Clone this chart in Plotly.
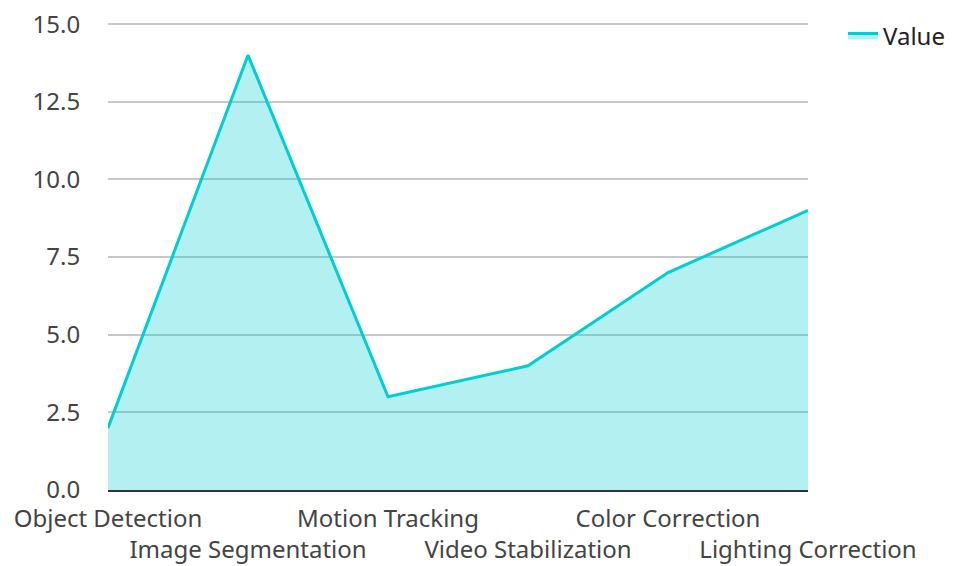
import plotly.graph_objects as go

categories = ["Object Detection", "Image Segmentation", "Motion Tracking",
              "Video Stabilization", "Color Correction", "Lighting Correction"]
values = [2, 14, 3, 4, 7, 9]
series_name = "Value"
y_ticks = [0, 2.5, 5, 7.5, 10, 12.5, 15]

tick_text = [c if i % 2 == 0 else "<br>" + c for i, c in enumerate(categories)]

fig = go.Figure()
fig.add_trace(go.Scatter(
    x=categories, y=values, name=series_name, mode="lines",
    fill="tozeroy", fillcolor="rgba(0,206,209,0.3)",
    line=dict(color="#00CED1", width=3),
))

fig.update_layout(
    width=942, height=558,
    margin=dict(l=100, r=142, t=13, b=76, autoexpand=False),
    paper_bgcolor="white", plot_bgcolor="white",
    font=dict(family="Noto Sans", size=24, color="#444"),
    showlegend=True,
    legend=dict(x=1.2029, y=1.016, xanchor="right", yanchor="top",
                font=dict(size=24, color="#222"), itemwidth=30),
    xaxis=dict(range=[0, 5], tickmode="array", tickvals=categories, ticktext=tick_text,
               tickangle=0, automargin=False, ticklabelstandoff=6,
               showgrid=False, showline=True, linecolor="#333", linewidth=2,
               ticks="", zeroline=False),
    yaxis=dict(range=[0, 15.1], tickvals=y_ticks, tickformat=".1f", automargin=False,
               ticklabeloverflow="allow",
               showgrid=True, gridcolor="#c8c8c8", gridwidth=1.5,
               zeroline=False, showline=False, ticks="outside", ticklen=22,
               tickcolor="rgba(0,0,0,0)"),
)

fig.write_html("out.html")
